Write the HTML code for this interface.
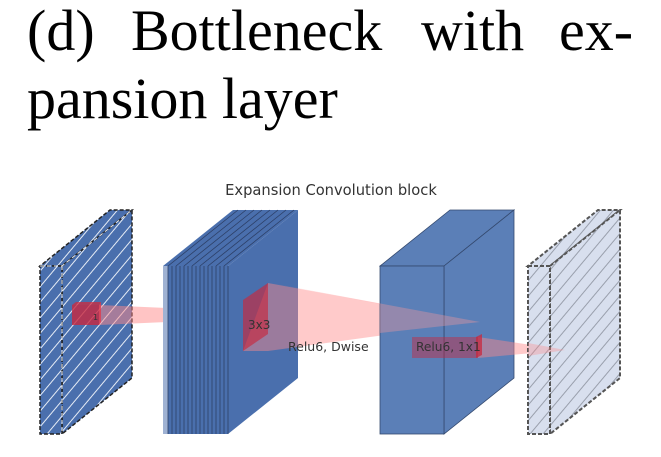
<!DOCTYPE html>
<html><head><meta charset="utf-8"><style>
html,body{margin:0;padding:0;background:#fff;width:661px;height:457px;overflow:hidden}
svg{display:block}
</style></head><body>
<svg width="661" height="457" viewBox="0 0 661 457" xmlns="http://www.w3.org/2000/svg">
<defs>
<pattern id="hw" patternUnits="userSpaceOnUse" width="10" height="10" patternTransform="rotate(-50)">
<rect width="10" height="10" fill="#4a6fad"/><line x1="0" y1="5" x2="10" y2="5" stroke="#e6ecf5" stroke-width="1"/></pattern>
<pattern id="hl" patternUnits="userSpaceOnUse" width="10" height="10" patternTransform="rotate(-50)">
<rect width="10" height="10" fill="#d8dfee"/><line x1="0" y1="5" x2="10" y2="5" stroke="#8a8f9c" stroke-width="0.8"/></pattern>
</defs>
<g font-family="Liberation Serif, serif" font-size="58" fill="#000">
<text x="27" y="50">(d)</text>
<text x="131" y="50">Bottleneck</text>
<text x="421" y="50">with</text>
<text x="559" y="50">ex-</text>
<text x="27" y="118">pansion layer</text>
</g>
<text x="331" y="195" text-anchor="middle" font-family="DejaVu Sans, sans-serif" font-size="14.7" fill="#333">Expansion Convolution block</text>

<!-- block 1 -->
<g stroke="#222" stroke-width="1.5" stroke-dasharray="4,2">
<polygon points="40,266 62,266 132,210 110,210" fill="url(#hw)"/>
<polygon points="62,266 132,210 132,378 62,434" fill="url(#hw)"/>
<rect x="40" y="266" width="22" height="168" fill="url(#hw)"/>
</g>
<g stroke="#eee" stroke-width="1" stroke-dasharray="4,3" fill="none">
<polyline points="40,266 62,266 132,210"/><line x1="62" y1="266" x2="62" y2="434"/>
</g>
<!-- red box 1 -->
<polygon points="99,305 167,308 167,322 99,325" fill="#ff8a8a" opacity="0.5"/>
<polygon points="72,305 76,302 101,302 99,305" fill="#d02a3c" opacity="0.75"/>
<polygon points="99,305 101,302 101,322 99,325" fill="#e03a4c" opacity="0.8"/>
<rect x="72" y="305" width="27" height="20" fill="#c8283e" opacity="0.8"/>
<text x="93" y="320" font-family="DejaVu Sans, sans-serif" font-size="8" fill="#333">1</text>

<!-- block 2 -->
<polygon points="163,266 228,266 298,210 233,210" fill="#4a6fad"/>
<polygon points="228,266 298,210 298,378 228,434" fill="#4a6fad"/>
<rect x="163" y="266" width="5" height="168" fill="#9fb2d3"/>
<rect x="168" y="266" width="60" height="168" fill="#4a6fad"/>
<g stroke="#2c3f66" stroke-width="0.8">
<line x1="168" y1="266" x2="168" y2="434"/><line x1="172" y1="266" x2="172" y2="434"/><line x1="176" y1="266" x2="176" y2="434"/><line x1="180" y1="266" x2="180" y2="434"/><line x1="184" y1="266" x2="184" y2="434"/><line x1="188" y1="266" x2="188" y2="434"/><line x1="192" y1="266" x2="192" y2="434"/><line x1="196" y1="266" x2="196" y2="434"/><line x1="200" y1="266" x2="200" y2="434"/><line x1="204" y1="266" x2="204" y2="434"/><line x1="208" y1="266" x2="208" y2="434"/><line x1="212" y1="266" x2="212" y2="434"/><line x1="216" y1="266" x2="216" y2="434"/><line x1="220" y1="266" x2="220" y2="434"/><line x1="224" y1="266" x2="224" y2="434"/><line x1="228" y1="266" x2="228" y2="434"/>
<line x1="168" y1="266" x2="238" y2="210"/><line x1="176" y1="266" x2="246" y2="210"/><line x1="184" y1="266" x2="254" y2="210"/><line x1="192" y1="266" x2="262" y2="210"/><line x1="200" y1="266" x2="270" y2="210"/><line x1="208" y1="266" x2="278" y2="210"/><line x1="216" y1="266" x2="286" y2="210"/><line x1="224" y1="266" x2="294" y2="210"/>
</g>
<!-- red 2 -->
<polygon points="268,283 480,322 268,351 243,351" fill="#ff8a8a" opacity="0.45"/>
<polygon points="243,300 268,283 268,334 243,351" fill="#c8283e" opacity="0.65"/>
<text x="248" y="329" font-family="DejaVu Sans, sans-serif" font-size="12" fill="#333">3x3</text>

<!-- block 3 -->
<g stroke="#34496e" stroke-width="0.8">
<polygon points="380,266 444,266 514,210 450,210" fill="#5b7fb7"/>
<polygon points="444,266 514,210 514,378 444,434" fill="#5b7fb7"/>
<rect x="380" y="266" width="64" height="168" fill="#5b7fb7"/>
</g>
<polygon points="270,283 480,322 380,333 380,304" fill="#ff9a9a" opacity="0.35"/>
<!-- red 3 -->
<polygon points="478,337 565,350 478,358" fill="#ff8a8a" opacity="0.45"/>
<rect x="412" y="337" width="66" height="21" fill="#c8283e" opacity="0.45"/>
<polygon points="476,337 482,334 482,355 476,358" fill="#c8283e" opacity="0.75"/>
<text x="288" y="351" font-family="DejaVu Sans, sans-serif" font-size="12.5" fill="#333">Relu6, Dwise</text>
<text x="416" y="351" font-family="DejaVu Sans, sans-serif" font-size="12.2" fill="#333">Relu6, 1x1</text>

<!-- block 4 -->
<g stroke="#555" stroke-width="2" stroke-dasharray="4,2">
<polygon points="528,266 550,266 620,210 598,210" fill="url(#hl)"/>
<polygon points="550,266 620,210 620,378 550,434" fill="url(#hl)"/>
<rect x="528" y="266" width="22" height="168" fill="url(#hl)"/>
</g>
<polygon points="528,343 565,350 528,356" fill="#ff8a8a" opacity="0.35"/>
</svg>
</body></html>
